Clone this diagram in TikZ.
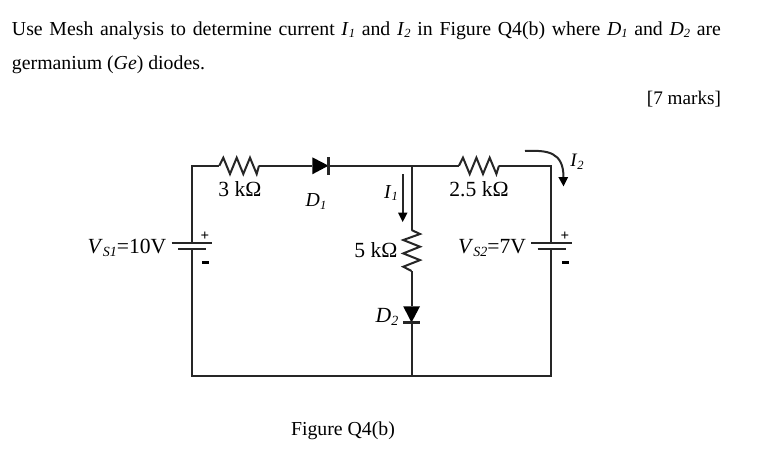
\documentclass[tikz,border=0pt]{standalone}
\usepackage{fontspec}
\setmainfont{Liberation Serif}
\newcommand{\subi}[1]{\raisebox{-2.5pt}{\fontsize{12.5}{13}\selectfont\textit{#1}}}
\newcommand{\subj}[1]{\raisebox{-3pt}{\fontsize{14}{14}\selectfont\textit{#1}}}
\tikzset{
  x=1pt,y=-1pt,
  wire/.style={line width=2pt,black!85},
  txt/.style={inner sep=0pt,outer sep=0pt,anchor=base,font=\fontsize{19.8}{22}\selectfont,text=black},
  lab/.style={txt,font=\fontsize{21.6}{23}\selectfont},
  plate/.style={line width=2.2pt,black!85},
  dio/.style={fill=black,draw=none},
  cur/.style={line width=2pt,black!85},
  head/.style={fill=black,draw=none},
  sign/.style={inner sep=0pt,font=\bfseries\fontsize{15}{15}\selectfont}
}
\begin{document}
\begin{tikzpicture}
\useasboundingbox (0,0) rectangle (757,458);
\fill[white] (0,0) rectangle (757,458);
% corners and terminals
\coordinate (tl) at (191.7,165.7);
\coordinate (tm) at (411.5,165.7);
\coordinate (tr) at (551,165.7);
\coordinate (bl) at (191.7,376.3);
\coordinate (bm) at (411.5,376.3);
\coordinate (br) at (551,376.3);
\coordinate (r1a) at (219.3,165.7); \coordinate (r1b) at (259,165.7);
\coordinate (r2a) at (459,165.7); \coordinate (r2b) at (499,165.7);
\coordinate (r3a) at (411.5,230); \coordinate (r3b) at (411.5,271);
\coordinate (d1a) at (312.3,165.7); \coordinate (d1b) at (328.5,165.7);
\coordinate (d2a) at (411.5,306.3); \coordinate (d2b) at (411.5,322.5);
\coordinate (b1a) at (191.7,242.7); \coordinate (b1b) at (191.7,249);
\coordinate (b2a) at (551,242.7); \coordinate (b2b) at (551,249);
% wires
\draw[wire] (b1a) -- (tl) -- (r1a);
\draw[wire] (r1b) -- (d1a);
\draw[wire] (d1b) -- (tm) -- (r2a);
\draw[wire] (r2b) -- (tr) -- (b2a);
\draw[wire] (b2b) -- (br) -- (bl) -- (b1b);
\draw[wire] (tm) -- (r3a);
\draw[wire] (r3b) -- (d2a);
\draw[wire] (d2b) -- (bm);
% resistors
\draw[wire,line join=miter] (r1a) -- ++(4,-8) -- ++(6.7,16.3) -- ++(6.7,-16.3) -- ++(6.6,16.3) -- ++(6.7,-16.3) -- ++(6.7,16.3) -- (r1b);
\draw[wire,line join=miter] (r2a) -- ++(4,-8) -- ++(6.7,16.3) -- ++(6.7,-16.3) -- ++(6.6,16.3) -- ++(6.7,-16.3) -- ++(6.7,16.3) -- (r2b);
\draw[wire,line join=miter] (r3a) -- ++(8.5,4) -- ++(-16.7,6) -- ++(16.7,6.7) -- ++(-16.7,6.7) -- ++(16.7,6.7) -- ++(-16.7,6.6) -- (r3b);
% diodes
\fill[dio] (312.3,157.3) -- (328.5,165.7) -- (312.3,174.3) -- cycle;
\draw[plate] (328.5,157) -- (328.5,174.5);
\fill[dio] (403.2,306.3) -- (420,306.3) -- (411.5,322.5) -- cycle;
\draw[plate] (403,322.5) -- (420,322.5);
% batteries
\draw[plate] (171.7,242.7) -- (212,242.7);
\draw[plate] (178,249) -- (206,249);
\draw[plate] (531,242.7) -- (571.5,242.7);
\draw[plate] (537.5,249) -- (565.5,249);
\node[sign] (p1) at (205,236.3) {+};
\node[sign] (p2) at (565,236.3) {+};
\fill (201.5,261) rectangle (208.5,263.5);
\fill (561.5,261) rectangle (568.5,263.5);
% currents
\coordinate (i1s) at (402.7,174); \coordinate (i1e) at (402.7,213);
\draw[cur] (i1s) -- (i1e);
\fill[head] (398,212.7) -- (407.5,212.7) -- (402.7,222) -- cycle;
\coordinate (i2s) at (525,151); \coordinate (i2e) at (563.5,177.5);
\draw[cur] (i2s) .. controls (548,150) and (563.5,152) .. (i2e);
\fill[head] (558.3,177) -- (568.2,177) -- (563.5,186.3) -- cycle;
% labels
\node[lab] (r1l) at (240,196) {3 kΩ};
\node[txt] (d1l) at (316,206.7) {\textit{D}\subi{1}};
\node[txt] (i1l) at (391,198) {\textit{I}\subi{1}};
\node[lab] (r2l) at (479,196) {2.5 kΩ};
\node[lab] (r3l) at (376,257.7) {5 kΩ};
\node[lab] (v2l) at (492,253.3) {\textit{V}\subj{S2}=7V};
\node[lab] (v1l) at (127,253.3) {\textit{V}\subj{S1}=10V};
\node[lab] (d2l) at (387,322) {\textit{D}\subj{2}};
\node[txt,font=\fontsize{19}{20}\selectfont] (i2l) at (577,166.5) {\textit{I}\subi{2}};
\node[txt] (cap) at (343,435) {Figure Q4(b)};
% text
\node[txt,anchor=base west] (l1) at (12,35) {\hbox to 709pt{Use Mesh analysis to determine current \textit{I}\subi{1} and \textit{I}\subi{2} in Figure Q4(b) where \textit{D}\subi{1} and \textit{D}\subi{2} are}};
\node[txt,anchor=base west] (l2) at (12,69) {germanium (\textit{Ge}) diodes.};
\node[txt,anchor=base east,font=\fontsize{19.2}{21}\selectfont] (mk) at (721,104) {[7 marks]};
\end{tikzpicture}
\end{document}
